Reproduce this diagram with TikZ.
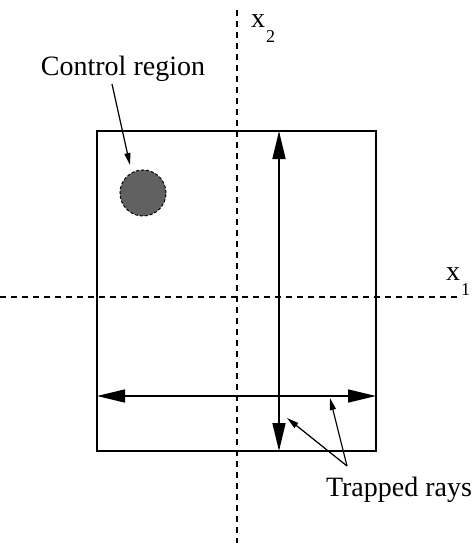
\documentclass[tikz,border=0pt]{standalone}
\usepackage{fontspec}
\setmainfont{Liberation Serif}
\usetikzlibrary{arrows.meta}
\begin{document}
\begin{tikzpicture}[x=1pt,y=-1pt,
  axis/.style={dashed,line width=1.3pt,dash pattern=on 6pt off 5pt},
  frame/.style={line width=1.3pt},
  ray/.style={line width=1.6pt,{Triangle[length=28pt,width=13pt]}-{Triangle[length=28pt,width=13pt]}},
  pointer/.style={line width=1.2pt,-{Triangle[length=12pt,width=6pt]}},
  lbl/.style={font=\fontsize{28}{30}\selectfont,inner sep=0pt}]
\useasboundingbox (0,0) rectangle (474,543);
% axes
\coordinate (v1) at (237,10); \coordinate (v2) at (237,543);
\coordinate (h1) at (0,297); \coordinate (h2) at (462,297);
\draw[axis] (v1) -- (v2);
\draw[axis] (h1) -- (h2);
% box
\node[frame,draw,minimum width=279pt,minimum height=320pt,inner sep=0pt] (box) at (236.5,291) {};
% rays
\coordinate (vt) at (279,131); \coordinate (vb) at (279,451);
\coordinate (hl) at (97,396); \coordinate (hr) at (376,396);
\draw[ray] (vb) -- (vt);
\draw[ray] (hl) -- (hr);
% control region
\node[circle,draw,dash pattern=on 3pt off 2pt,fill=black!62,minimum size=46pt,inner sep=0pt,line width=1pt] (ctrl) at (143,193) {};
\node[lbl] (clabel) at (123,69) {Control region};
\coordinate (cp) at (112,84);
\draw[pointer] (cp) -- (130,165);
% axis labels
\node[lbl,anchor=base west] (x2) at (251,28) {x};
\node[font=\fontsize{18}{20}\selectfont,inner sep=0pt,anchor=base west] (s2) at (266,43) {2};
\node[lbl,anchor=base west] (x1) at (446,280) {x};
\node[font=\fontsize{18}{20}\selectfont,inner sep=0pt,anchor=base west] (s1) at (461,295) {1};
% trapped rays
\node[lbl] (tlabel) at (399,490) {Trapped rays};
\coordinate (tp) at (347,466);
\draw[pointer] (tp) -- (287,418);
\draw[pointer] (tp) -- (330,398);
\end{tikzpicture}
\end{document}
